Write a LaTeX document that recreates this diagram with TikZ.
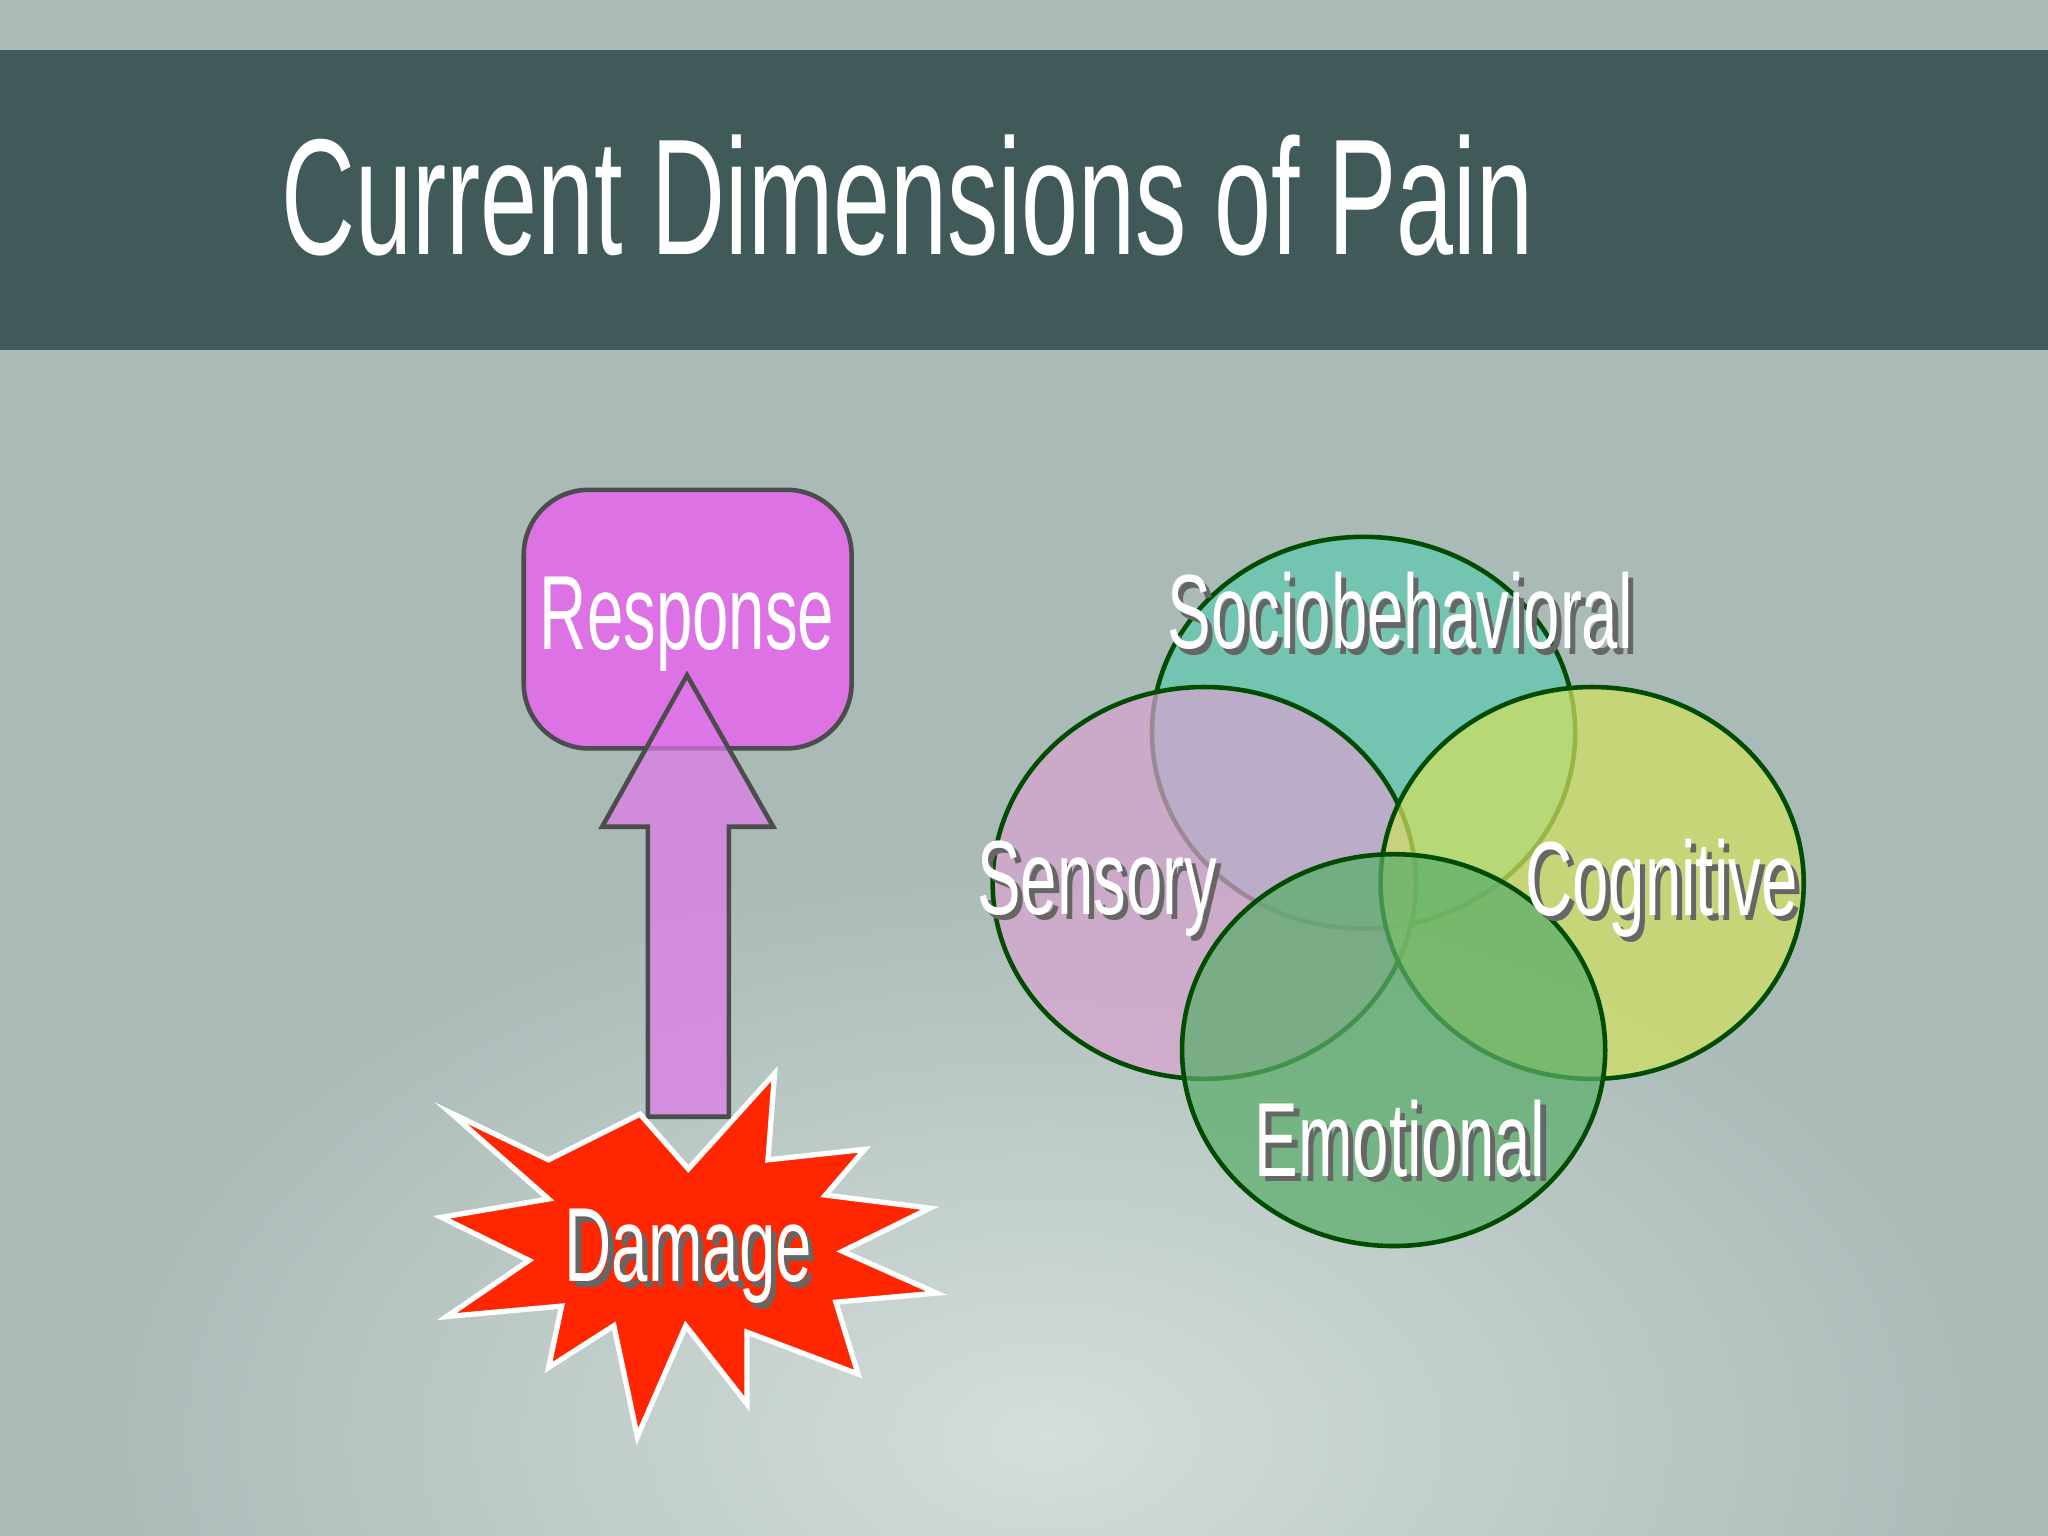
\documentclass[tikz,border=0pt]{standalone}
\usepackage{fontspec}
\setmainfont{Liberation Sans}[FakeStretch=0.62]
\begin{document}
\begin{tikzpicture}[x=0.013061cm,y=-0.013061cm,
 lbl/.style={text=white,font=\fontsize{30}{30}\selectfont},
 venn/.style={draw=black!70!green,line width=1.3pt,fill opacity=0.72}]
\useasboundingbox (0,0) rectangle (1568,1176);
\fill[fill={rgb,255:red,170;green,186;blue,183}] (0,0) rectangle (1568,1176);
\shade[inner color={rgb,255:red,212;green,222;blue,220},outer color={rgb,255:red,170;green,186;blue,183}] (800,1100) ellipse (750 and 450);
\fill[fill={rgb,255:red,64;green,90;blue,89}] (0,38) rectangle (1568,268);
\node[anchor=base west,text=white,font=\fontsize{47}{47}\selectfont,inner sep=0] (title) at (215,195) {Current Dimensions of Pain};
% response
\draw[draw=black!70,line width=1.3pt,fill={rgb,255:red,221;green,114;blue,228},rounded corners=0.65cm] (401,375) rectangle (652,573);
\node[lbl,inner sep=0] (resp) at (526,478) {Response};
% arrow
\draw[draw=black!70,line width=1.3pt,fill={rgb,255:red,225;green,120;blue,235},fill opacity=0.7] (526,517) -- (592,633) -- (558,633) -- (558,855) -- (496,855) -- (496,633) -- (461,633) -- cycle;
% star
\draw[draw=white,line width=1.5pt,fill={rgb,255:red,255;green,38;blue,0}]
 (345,852) -- (420,888) -- (490,853) -- (527,895) -- (593,822) -- (588,888) -- (662,880) -- (632,915) -- (712,925) -- (645,958) -- (717,990) -- (640,997) -- (657,1052) -- (572,1020) -- (572,1075) -- (525,1015) -- (488,1100) -- (470,1015) -- (420,1047) -- (430,1000) -- (342,1008) -- (405,965) -- (338,932) -- (420,918) -- cycle;
\node[lbl,inner sep=0,text=black!60] at (531,966) {Damage};
\node[lbl,inner sep=0] (dmg) at (527,962) {Damage};
% venn
\draw[venn,fill={rgb,255:red,94;green,201;blue,176}] (1044,561) ellipse (162 and 150);
\draw[venn,fill={rgb,255:red,216;green,163;blue,208}] (922,676) ellipse (162 and 150);
\draw[venn,fill={rgb,255:red,209;green,224;blue,96}] (1219,676) ellipse (162 and 150);
\draw[venn,fill={rgb,255:red,90;green,174;blue,106}] (1067,804) ellipse (162 and 150);
\foreach \t/\x/\y/\n in {Sociobehavioral/1072/468/sb,Sensory/840/680/se,Cognitive/1272/680/co,Emotional/1072/872/em}{
 \node[lbl,text=black!60,inner sep=0] at (\x+4,\y+4) {\t};
 \node[lbl,inner sep=0] (\n) at (\x,\y) {\t};}
\end{tikzpicture}
\end{document}
